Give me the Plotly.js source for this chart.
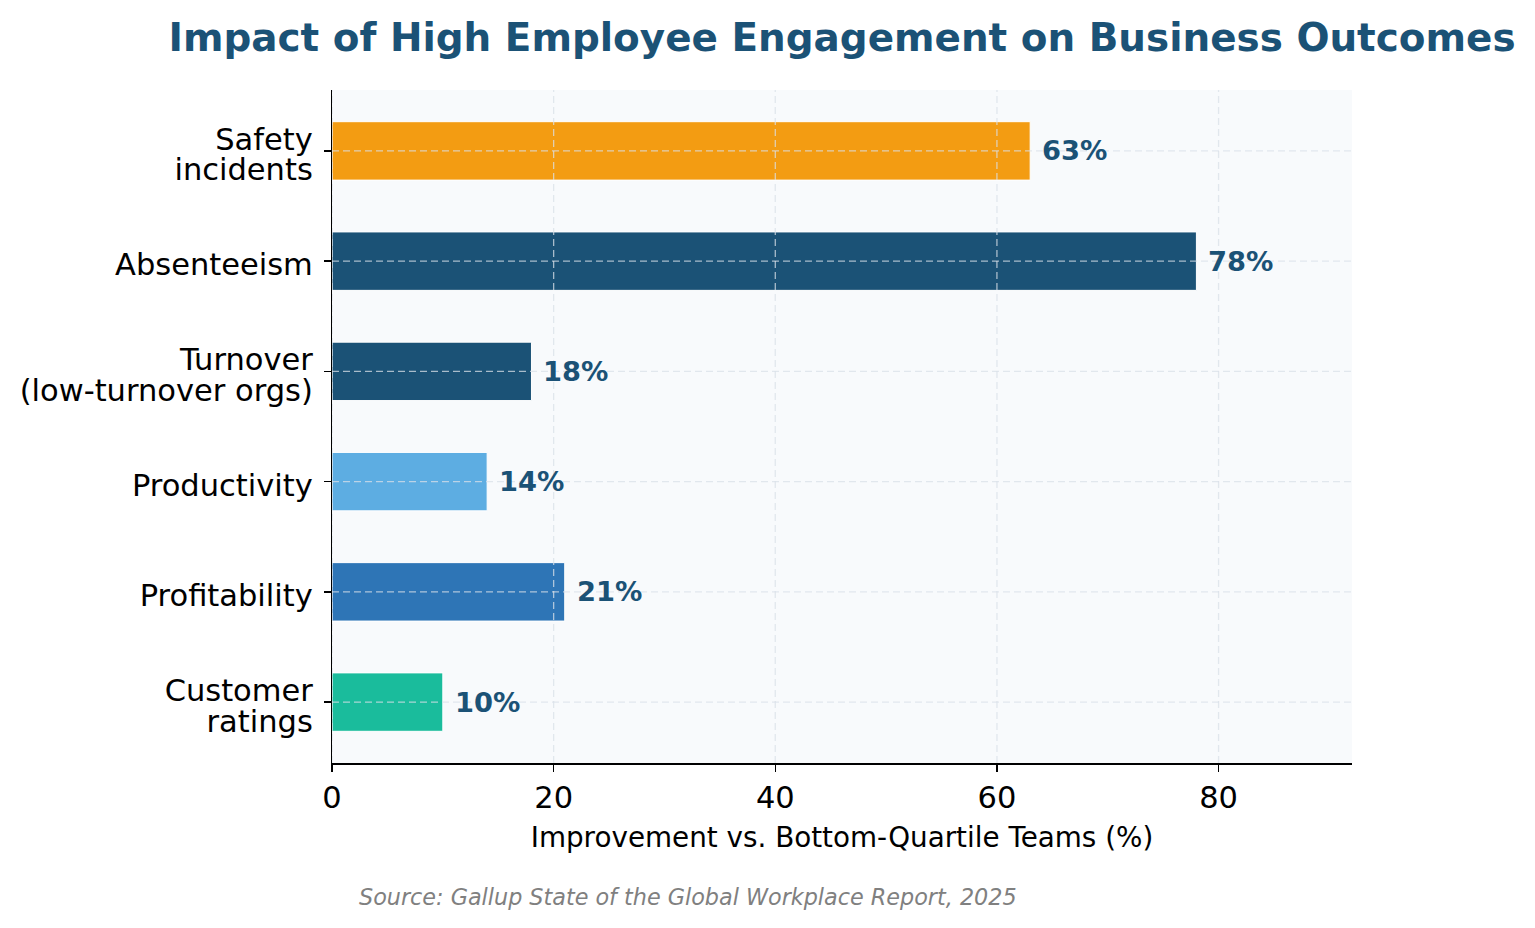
<!DOCTYPE html>
<html>
<head>
<meta charset="utf-8">
<script src="https://cdn.plot.ly/plotly-3.0.1.min.js"></script>
<style>html,body{margin:0;padding:0;background:#fff;}#chart{width:1535px;height:928px;}</style>
</head>
<body>
<div id="chart"></div>
<script>
// ---- data (bottom to top) ----
const categories = ['Customer\nratings', 'Profitability', 'Productivity', 'Turnover\n(low-turnover orgs)', 'Absenteeism', 'Safety\nincidents'];
const values = [10, 21, 14, 18, 78, 63];
const barColors = ['#1abc9c', '#2e75b6', '#5dade2', '#1b5276', '#1b5276', '#f39c12'];
const xTicks = [0, 20, 40, 60, 80];
const titleText = 'Impact of High Employee Engagement on Business Outcomes';
const xTitle = 'Improvement vs. Bottom-Quartile Teams (%)';
const sourceText = 'Source: Gallup State of the Global Workplace Report, 2025';

const cats = categories.map(c => c.replace('\n', '<br>'));
const tickLabels = categories.map(c => c.split('\n').map(s => '<span style="font-size:30.5px">' + s + '</span>').join('<br>'));
const FONT = 'DejaVu Sans, Verdana, sans-serif';
const gridColor = 'rgba(218,224,232,0.75)';

const trace = {
  type: 'bar',
  orientation: 'h',
  y: cats,
  x: values,
  width: 0.53,
  marker: {color: barColors, line: {color: '#ffffff', width: 1}},
  hoverinfo: 'skip'
};

const xMax = Math.max(...values) * 1.18;

const shapes = [];
xTicks.forEach(v => shapes.push({
  type: 'line', xref: 'x', yref: 'paper', x0: v, x1: v, y0: 0, y1: 1, layer: 'above',
  line: {color: gridColor, width: 1.3, dash: '7px,4px'}
}));
cats.forEach(c => shapes.push({
  type: 'line', xref: 'paper', yref: 'y', x0: 0, x1: 1, y0: c, y1: c, layer: 'above',
  line: {color: gridColor, width: 1.3, dash: '7px,4px'}
}));

const annotations = values.map((v, i) => ({
  x: v, y: cats[i], xref: 'x', yref: 'y', text: v + '%', showarrow: false,
  xanchor: 'left', yanchor: 'middle', xshift: 10,
  font: {family: FONT, size: 27.3, color: '#1b5276', weight: 'bold'}
}));
annotations.push({
  xref: 'paper', yref: 'paper', x: 0.0245, y: -0.199, xanchor: 'left', yanchor: 'middle',
  text: '<i>' + sourceText + '</i>', showarrow: false,
  font: {family: FONT, size: 22.3, color: '#808080'}
});

const layout = {
  width: 1535, height: 928,
  margin: {l: 332, r: 183, t: 90, b: 165},
  paper_bgcolor: '#ffffff',
  plot_bgcolor: '#f8fafc',
  showlegend: false,
  title: {
    text: titleText, x: 0.5, xref: 'paper', xanchor: 'center',
    y: 1 - 37 / 928, yref: 'container', yanchor: 'middle',
    font: {family: FONT, size: 38.9, color: '#1b5276', weight: 'bold'}
  },
  xaxis: {
    range: [0, xMax], tickvals: xTicks, ticktext: xTicks.map(String),
    showgrid: false, zeroline: false,
    showline: true, linecolor: '#000', linewidth: 1.5,
    ticks: 'outside', ticklen: 7, tickwidth: 1.5, tickcolor: '#000',
    tickfont: {family: FONT, size: 30.5, color: '#000'},
    title: {text: xTitle, font: {family: FONT, size: 27.8, color: '#000'}, standoff: 13},
    fixedrange: true
  },
  yaxis: {
    type: 'category', categoryorder: 'array', categoryarray: cats,
    tickvals: cats, ticktext: tickLabels,
    range: [-0.5525, cats.length - 1 + 0.5525],
    showgrid: false, zeroline: false,
    showline: true, linecolor: '#000', linewidth: 1.5,
    ticks: 'outside', ticklen: 7, tickwidth: 1.5, tickcolor: '#000',
    tickfont: {family: FONT, size: 23.5, color: '#000'},
    ticklabelstandoff: 6,
    ticklabelshift: 6,
    fixedrange: true
  },
  shapes: shapes,
  annotations: annotations,
  bargap: 0
};

Plotly.newPlot('chart', [trace], layout, {displayModeBar: false, staticPlot: true});
</script>
</body>
</html>
